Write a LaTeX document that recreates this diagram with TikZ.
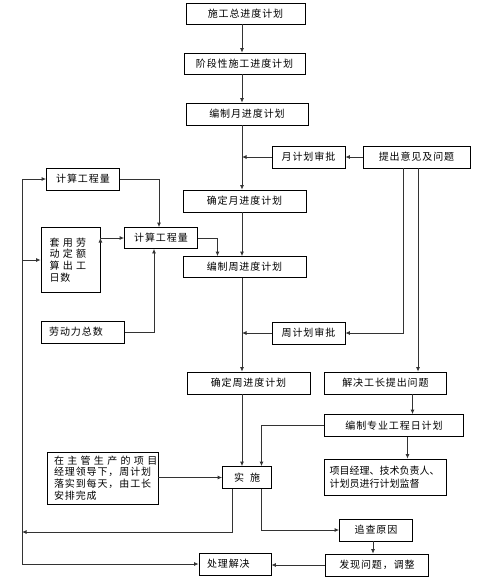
\documentclass[tikz,border=0pt]{standalone}
\usepackage{fontspec}
\setmainfont[LetterSpace=9]{Noto Sans CJK SC}
\newfontfamily\tight{Noto Sans CJK SC}
\usetikzlibrary{arrows.meta,positioning,calc}

\begin{document}
\begin{tikzpicture}[x=1pt,y=-1pt,font=\fontsize{10pt}{11.7pt}\selectfont,
  box/.style={draw,line width=0.8pt,minimum height=22pt,inner sep=1pt},
  line/.style={draw,black!80,line width=0.8pt},
  >={Latex[length=4.5pt,width=4pt]}]
  \useasboundingbox (0,0) rectangle (477,584);
  \coordinate (mid) at (242,0);
  \coordinate (lft) at (22,0);
  \coordinate (back) at (22,532);
  % main column
  \node[box,minimum width=119pt,minimum height=21pt] (zong)    at (245.5,13.5) {施工总进度计划};
  \node[box,minimum width=121pt,minimum height=21pt] (jieduan) at (244.5,63.5) {阶段性施工进度计划};
  \node[box,minimum width=122pt] (yue)     at (247,114)   {编制月进度计划};
  \node[box,minimum width=123pt] (queyue)  at (244.5,201) {确定月进度计划};
  \node[box,minimum width=123pt,minimum height=21pt] (zhou) at (244.5,267) {编制周进度计划};
  \node[box,minimum width=123pt] (quezhou) at (248.5,383) {确定周进度计划};
  \node[box,minimum width=49pt]  (shishi)  at (247,477.5) {实\hspace{6pt}施};
  \node[box,text width=56pt,inner xsep=8pt,align=left] (chuli) at (235,564) {处理解决};
  % right side
  \node[box,minimum width=73pt]  (yuesp)   at (308.5,157) {月计划审批};
  \node[box,minimum width=107pt] (tichu)   at (416.5,157) {提出意见及问题};
  \node[box,minimum width=73pt]  (zhousp)  at (308.5,333) {周计划审批};
  \node[box,minimum width=122pt] (jiejue)  at (385.5,383) {解决工长提出问题};
  \node[box,minimum width=139pt] (ri)      at (394,425.5) {编制专业工程日计划};
  \node[box,text width=112pt,inner xsep=5pt,minimum height=36pt,align=left,
        font=\tight\fontsize{10pt}{13pt}\selectfont] (jiandu) at (385.5,477)
        {项目经理、技术负责人、\\计划员进行计划监督};
  \node[box,minimum width=73pt]  (zhuicha) at (376,530) {追查原因};
  \node[box,minimum width=103pt] (faxian)  at (377,565) {发现问题，调整};
  % left side
  \node[box,minimum width=73pt]  (gcl1)    at (83,179)  {计算工程量};
  \node[box,text width=42pt,inner xsep=8.5pt,minimum height=65pt,align=left] (taoyong) at (70.5,260)
        {\makebox[42pt][s]{套 用 劳}\\\makebox[42pt][s]{动 定 额}\\\makebox[42pt][s]{算 出 工}\\日数};
  \node[box,minimum width=73pt,minimum height=21pt] (gcl2) at (161,238) {计算工程量};
  \node[box,text width=67pt,inner xsep=8pt,align=left] (laodong) at (82.7,332) {劳动力总数};
  \node[box,text width=97pt,inner xsep=7pt,minimum height=52pt,align=left] (zaizhu) at (102.5,478)
        {\makebox[97pt][s]{在 主 管 生 产 的 项 目}\\经理领导下，周计划\\落实到每天，由工长\\安排完成};
  \path[line,->] (zong.south -| mid) edge (jieduan.north -| mid)
        (jieduan.south -| mid) edge (yue.north -| mid)
        (yue.south -| mid) edge (queyue.north -| mid)
        (yuesp.west) edge (yuesp.west -| mid)
        (tichu.west) edge (yuesp.east)
        (queyue.south -| mid) edge (zhou.north -| mid)
        (zhou.south -| mid) edge (quezhou.north -| mid)
        (zhousp.west) edge (zhousp.west -| mid)
        (quezhou.south -| mid) edge (shishi.north -| mid)
        (zaizhu.east |- shishi.west) edge (shishi.west)
        (faxian.west) edge (faxian.west -| chuli.east)
        (lft |- taoyong.west) edge (taoyong.west)
        (taoyong.east |- gcl2) edge (gcl2.west);
  \draw[line,->] (gcl1.west -| lft) -- (lft |- chuli.west) -- (chuli.west);
  \draw[line,->] (gcl1.west -| lft) -- (gcl1.west);
  \draw[line,->] (gcl1.east) -| ([xshift=-2pt]gcl2.north);
  \draw[line,->] (laodong.east) -| ([xshift=-7pt]gcl2.south);
  \draw[line,->] (gcl2.east) -| ([xshift=-27pt]zhou.north);
  \draw[line,->] ([xshift=-13.5pt]tichu.south) |- (zhousp.east);
  \draw[line,->] ([xshift=1.5pt]tichu.south) -- ([xshift=1.5pt]tichu.south |- jiejue.north);
  \draw[line,->] ([xshift=27pt]jiejue.south) -- ([xshift=27pt]jiejue.south |- ri.north);
  \draw[line,->] ([xshift=22pt]jiandu.north |- ri.south) -- ([xshift=22pt]jiandu.north);
  \draw[line,->] (ri.west) -| ([xshift=14.5pt]shishi.north);
  \draw[line,->] ([xshift=-14.5pt]shishi.south) |- (back);
  \draw[line,->] ([xshift=14.5pt]shishi.south) |- (zhuicha.west);
  \draw[line,->] ([xshift=-3pt]zhuicha.south) -- ([xshift=-3pt]zhuicha.south |- faxian.north);
\end{tikzpicture}
\end{document}
